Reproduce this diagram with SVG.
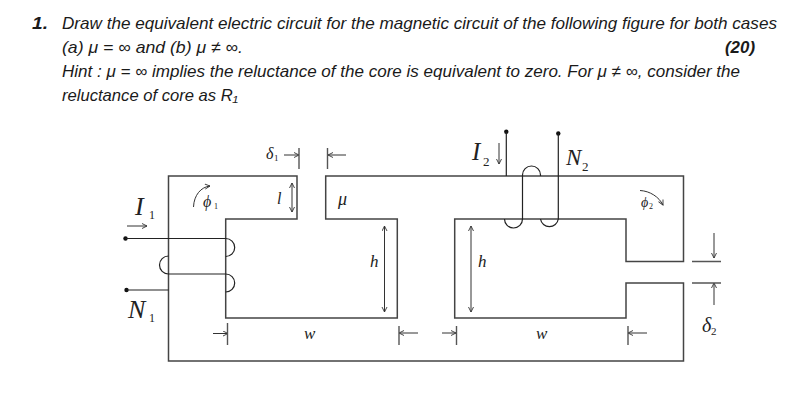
<svg xmlns="http://www.w3.org/2000/svg" width="791" height="411" viewBox="0 0 791 411">
<defs>
<marker id="a" markerWidth="7" markerHeight="7" refX="5.5" refY="3" orient="auto-start-reverse" markerUnits="userSpaceOnUse"><path d="M0.5 0.5L5.5 3L0.5 5.5" fill="none" stroke="#333" stroke-width="0.9"/></marker>
</defs>
<style>
.q{font:italic 17px "Liberation Sans",Arial,sans-serif;fill:#1a1a1a}
.b{font-weight:bold}
.m{font-family:"Liberation Serif","Times New Roman",serif;font-style:italic;fill:#222}
.s{font-family:"Liberation Serif","Times New Roman",serif;fill:#222}
.core{fill:none;stroke:#444;stroke-width:1.5}
.w{fill:none;stroke:#222;stroke-width:1.2}
.d{fill:none;stroke:#333;stroke-width:1;marker-end:url(#a)}
.dd{fill:none;stroke:#333;stroke-width:1;marker-start:url(#a);marker-end:url(#a)}
.t{stroke:#555;stroke-width:1.4;fill:none}
</style>
<rect width="791" height="411" fill="#fff"/>
<g id="question">
<text class="q b" x="32" y="29" textLength="16" lengthAdjust="spacingAndGlyphs">1.</text>
<text class="q" x="62" y="29" textLength="715" lengthAdjust="spacingAndGlyphs">Draw the equivalent electric circuit for the magnetic circuit of the following figure for both cases</text>
<text class="q" x="62" y="53" textLength="181" lengthAdjust="spacingAndGlyphs">(a) μ = ∞ and (b)  μ ≠ ∞.</text>
<text class="q b" x="725" y="53" textLength="30" lengthAdjust="spacingAndGlyphs">(20)</text>
<text class="q" x="62" y="77" textLength="678" lengthAdjust="spacingAndGlyphs">Hint :  μ = ∞ implies the reluctance of the core is equivalent to zero. For μ ≠ ∞, consider the</text>
<text class="q" x="62" y="101" textLength="176" lengthAdjust="spacingAndGlyphs">reluctance of core as R₁</text>
</g>
<g id="core">
<path class="core" d="M297 176H168.500V361H683.500V283H626V318H454.700V219H626V261.500H683.500V176H325.700V219H397.300V318H225.700V219H297Z"/>
</g>
<g id="coil-1">
<circle cx="125.500" cy="238.500" r="2.200" fill="#111"/>
<circle cx="126.500" cy="290" r="2.200" fill="#111"/>
<path class="w" d="M125.500 238.500H225.700A9 9 0 0 1 225.700 256.500"/>
<path class="w" d="M126.500 290H168.500M168.500 256A9 9 0 0 0 168.500 274H225.700A9 9 0 0 1 225.700 292"/>
</g>
<g id="coil-2">
<circle cx="506.300" cy="131.700" r="2.200" fill="#111"/>
<circle cx="558.300" cy="133.500" r="2.200" fill="#111"/>
<path class="w" d="M506.300 131.700V176M504.500 219A9 9 0 0 0 522.500 219V175A9 9 0 0 1 540.500 175V176"/>
<path class="w" d="M540.500 219A9 9 0 0 0 558.300 219V133.500"/>
</g>
<g id="connectors">
<path class="d" d="M127 226H147"/>
<path class="d" d="M284 155H299"/>
<path class="d" d="M346 155H328"/>
<path class="t" d="M299 148V169M327.500 148V169"/>
<path class="dd" d="M292 183V212"/>
<path class="d" d="M193.500 207C194 195 201 187 210 186"/>
<path class="dd" d="M384.500 226V312"/>
<path class="dd" d="M471 226V312"/>
<path class="d" d="M499 143V164"/>
<path class="d" d="M640 190.500C650 191 659 197 663 205"/>
<path class="d" d="M213 333.500H228"/>
<path class="t" d="M227.500 323V345"/>
<path class="d" d="M418 333H399"/>
<path class="t" d="M399 326V345"/>
<path class="d" d="M442 333H456"/>
<path class="t" d="M456.500 326V345"/>
<path class="d" d="M647 333H628"/>
<path class="t" d="M628 326V345"/>
<path class="d" d="M714 233V258"/>
<path class="d" d="M714 305V283"/>
<path class="t" d="M692 261.500H721M692 283H721"/>
</g>
<g id="labels">
<text class="m" x="135" y="215" font-size="26">I</text><text class="s" x="149" y="219" font-size="12">1</text>
<text class="m" x="128" y="318" font-size="26">N</text><text class="s" x="149" y="322" font-size="12">1</text>
<text class="m" x="266" y="159" font-size="16">δ</text><text class="s" x="274" y="161" font-size="9">1</text>
<text class="m" x="203" y="207" font-size="16">ϕ</text><text class="s" x="214" y="209" font-size="8">1</text>
<text class="m" x="277" y="204" font-size="16">l</text>
<text class="m" x="338" y="205" font-size="18">μ</text>
<text class="m" x="370" y="267" font-size="17">h</text>
<text class="m" x="478" y="267" font-size="17">h</text>
<text class="m" x="304" y="339" font-size="17">w</text>
<text class="m" x="536" y="339" font-size="17">w</text>
<text class="m" x="472" y="160" font-size="25">I</text><text class="s" x="483" y="166" font-size="13">2</text>
<text class="m" x="566" y="165" font-size="23">N</text><text class="s" x="582" y="171" font-size="13">2</text>
<text class="m" x="641" y="207" font-size="14">ϕ</text><text class="s" x="649" y="209" font-size="8">2</text>
<text class="m" x="702" y="332" font-size="20">δ</text><text class="s" x="711" y="335" font-size="11">2</text>
</g>
</svg>
